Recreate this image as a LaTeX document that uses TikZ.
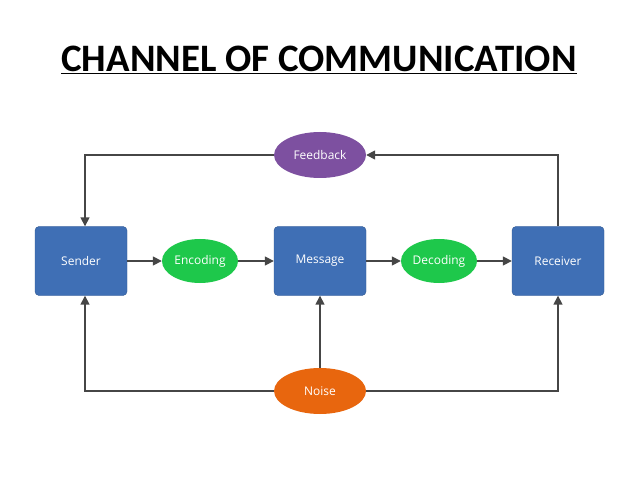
\documentclass[tikz,border=0pt]{standalone}
\usepackage{fontspec}
\setmainfont{Open Sans}
\newfontfamily\titlefont{Carlito}
\usetikzlibrary{arrows.meta,shapes.geometric}
\definecolor{boxblue}{RGB}{63,111,181}
\definecolor{encgreen}{RGB}{30,200,75}
\definecolor{fbpurple}{RGB}{125,80,160}
\definecolor{noiseorange}{RGB}{232,102,14}
\definecolor{linegray}{RGB}{70,70,70}
\tikzset{
  box/.style={rectangle, rounded corners=4bp, fill=boxblue, draw=boxblue!80!black,
    minimum width=92bp, minimum height=69bp, text=white, font=\fontsize{12}{14}\selectfont},
  oval/.style={ellipse, minimum width=76bp, minimum height=44bp, text=white,
    font=\fontsize{12}{14}\selectfont, inner sep=0pt},
  conn/.style={linegray, line width=1.6bp, -{Triangle[length=9bp,width=9bp]}}
}
\begin{document}
\begin{tikzpicture}[x=1bp,y=-1bp]
  \useasboundingbox (0,0) rectangle (638,478);
  \node (title) at (319,60) {\titlefont\bfseries\fontsize{39}{46}\selectfont\underline{CHANNEL OF COMMUNICATION}};

  \node (sender) [box] at (81,261) {Sender};
  \node (message) [box] at (320,261) {Message};
  \node (receiver) [box] at (558,261) {Receiver};
  \node (encoding) [oval, fill=encgreen] at (200,261) {Encoding};
  \node (decoding) [oval, fill=encgreen] at (439,261) {Decoding};
  \node (feedback) [oval, fill=fbpurple, minimum width=92bp, minimum height=46bp] at (320,155) {Feedback};
  \node (noise) [oval, fill=noiseorange, minimum width=92bp, minimum height=46bp] at (320,391) {Noise};

  \draw [conn] (sender) -- (encoding);
  \draw [conn] (encoding) -- (message);
  \draw [conn] (message) -- (decoding);
  \draw [conn] (decoding) -- (receiver);
  \draw [conn] (receiver.north) |- (feedback.east);
  \draw [conn] (feedback.west) -| ([xshift=4bp]sender.north);
  \draw [conn] (noise.west) -| ([xshift=4bp]sender.south);
  \draw [conn] (noise.east) -| (receiver.south);
  \draw [conn] (noise) -- (message);
\end{tikzpicture}
\end{document}
